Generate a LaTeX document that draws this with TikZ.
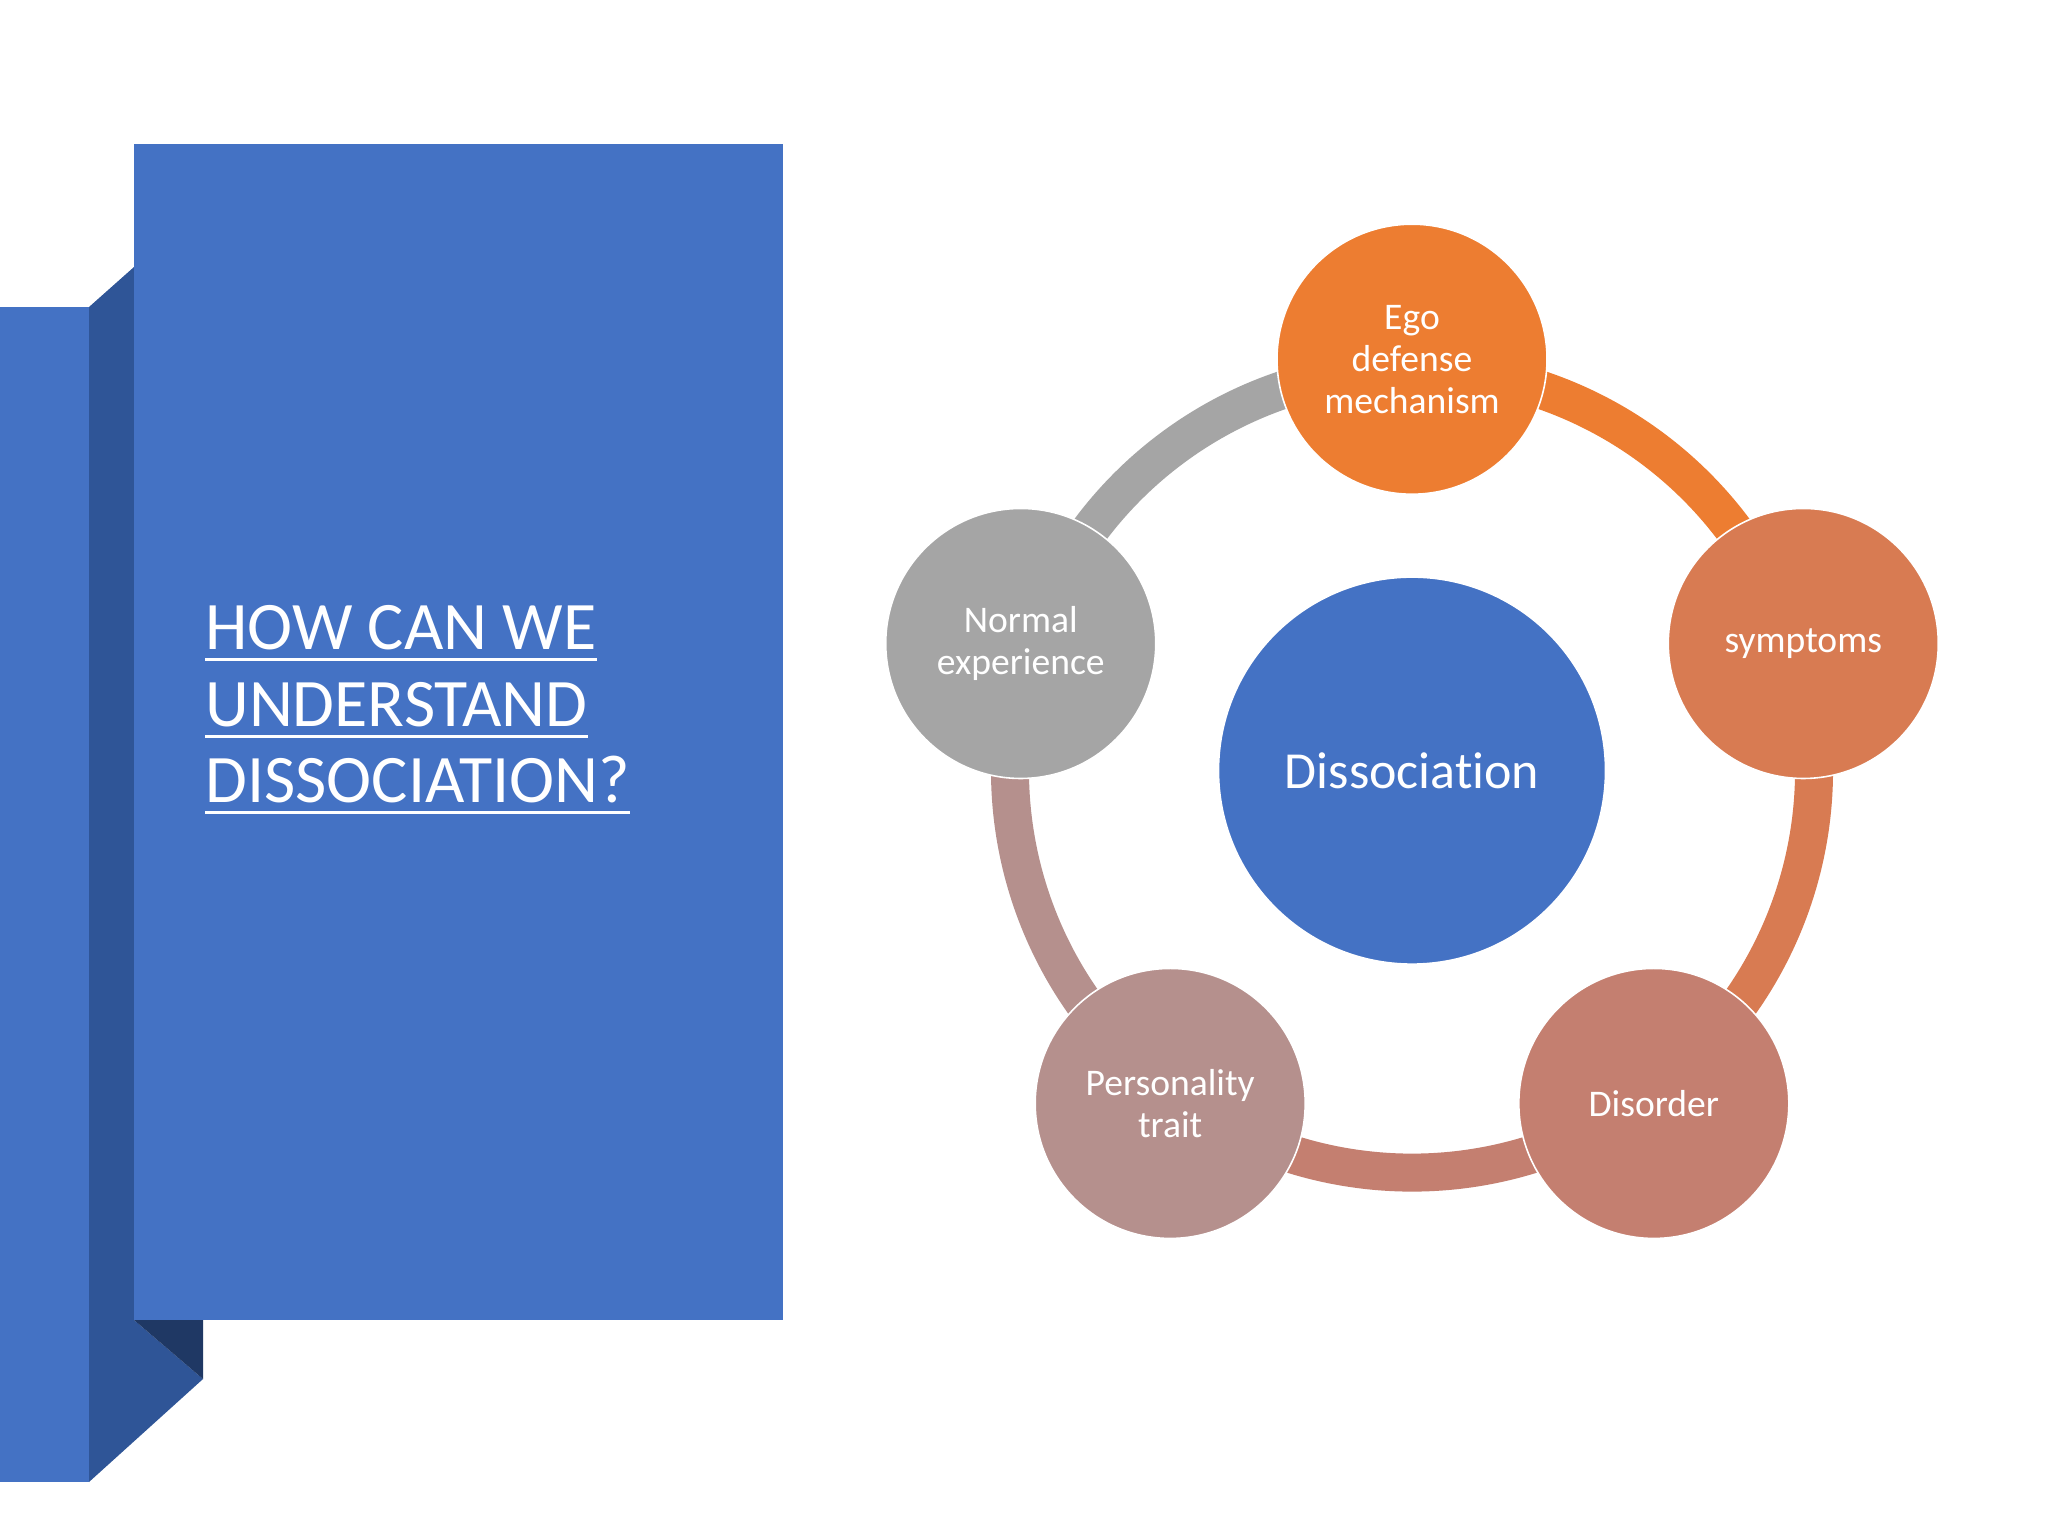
\documentclass[tikz,border=0pt]{standalone}
\usepackage{fontspec}
\setmainfont{Carlito}[Ligatures={NoCommon}]
\definecolor{mainblue}{HTML}{4472C4}
\definecolor{foldblue}{HTML}{2F5597}
\definecolor{navyblue}{HTML}{1F3864}
\definecolor{cego}{HTML}{ED7D31}
\definecolor{csym}{HTML}{D87B52}
\definecolor{cdis}{HTML}{C47F70}
\definecolor{cper}{HTML}{B5908D}
\definecolor{cnor}{HTML}{A5A5A5}
\begin{document}
\begin{tikzpicture}[x=0.5pt,y=-0.5pt,
  satellite/.style={circle, draw=white, line width=0.8pt, minimum size=135pt, inner sep=0pt,
    text=white, font=\fontsize{18.8}{21}\selectfont, align=center},
  hub/.style={circle, draw=white, line width=0.8pt, minimum size=193.5pt, inner sep=0pt,
    text=white, font=\fontsize{26}{30}\selectfont, fill=mainblue},
  ringarc/.style={line width=19pt},
  titleline/.style={anchor=base west, inner sep=0pt, text=white, font=\fontsize{34}{38}\selectfont},
  uline/.style={draw=white, line width=1.5pt}]
\useasboundingbox[fill=white] (0,0) rectangle (2048,1536);
% left book-like shape
\fill[mainblue] (0,307) rectangle (89,1482);
\fill[foldblue] (89,307) -- (134,267) -- (134,1320) -- (203,1379) -- (89,1482) -- cycle;
\fill[navyblue] (134,1320) -- (203,1320) -- (203,1379) -- cycle;
\fill[mainblue] (134,144) rectangle (783,1320);
% title
\node[titleline] (t1) at (205,649) {HOW CAN WE};
\node[titleline] (t2) at (205,726.7) {UNDERSTAND};
\node[titleline] (t3) at (205,802.7) {DISSOCIATION?};
\foreach \t in {t1,t2,t3}{
  \draw[uline] ([yshift=-5pt]\t.base west) -- ([yshift=-5pt]\t.base east);
}
% cycle
\coordinate (ctr) at (1412,770.6);
\draw[ringarc, cego] ([shift={(-90:402)}]ctr) arc[start angle=-90, end angle=-18, radius=402];
\draw[ringarc, csym] ([shift={(-18:402)}]ctr) arc[start angle=-18, end angle=54, radius=402];
\draw[ringarc, cdis] ([shift={(54:402)}]ctr) arc[start angle=54, end angle=126, radius=402];
\draw[ringarc, cper] ([shift={(126:402)}]ctr) arc[start angle=126, end angle=198, radius=402];
\draw[ringarc, cnor] ([shift={(198:402)}]ctr) arc[start angle=198, end angle=270, radius=402];
\node[hub] (hub) at (ctr) {Dissociation};
\node[satellite, fill=cego] (ego) at ([shift={(-90:411.4)}]ctr) {Ego\\defense\\mechanism};
\node[satellite, fill=csym] (sym) at ([shift={(-18:411.4)}]ctr) {symptoms};
\node[satellite, fill=cdis] (dis) at ([shift={(54:411.4)}]ctr) {Disorder};
\node[satellite, fill=cper] (per) at ([shift={(126:411.4)}]ctr) {Personality\\trait};
\node[satellite, fill=cnor] (nor) at ([shift={(198:411.4)}]ctr) {Normal\\experience};
\end{tikzpicture}
\end{document}
